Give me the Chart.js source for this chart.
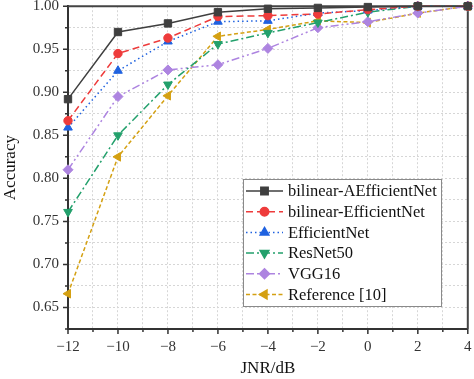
<!DOCTYPE html>
<html>
<head>
<meta charset="utf-8">
<script src="https://cdn.jsdelivr.net/npm/chart.js@4"></script>
<style>
html,body{margin:0;padding:0;background:#fff;}
#wrap{width:474px;height:379px;position:relative;}
</style>
</head>
<body>
<div id="wrap"><canvas id="c" width="474" height="379"></canvas></div>
<script>
const jnr = [-12, -10, -8, -6, -4, -2, 0, 2, 4];
const bilinearAEfficientNet = [0.892, 0.970, 0.980, 0.993, 0.997, 0.998, 0.999, 1.000, 1.000];
const bilinearEfficientNet  = [0.867, 0.945, 0.963, 0.988, 0.989, 0.991, 0.996, 1.000, 1.000];
const efficientNet          = [0.859, 0.925, 0.959, 0.982, 0.983, 0.992, 0.995, 1.000, 1.000];
const resNet50              = [0.761, 0.850, 0.909, 0.956, 0.969, 0.981, 0.993, 1.000, 1.000];
const vgg16                 = [0.810, 0.895, 0.926, 0.932, 0.951, 0.975, 0.982, 0.992, 1.000];
const reference10           = [0.666, 0.825, 0.896, 0.965, 0.973, 0.983, 0.981, 0.992, 1.000];
const seriesNames = ['bilinear-AEfficientNet', 'bilinear-EfficientNet', 'EfficientNet', 'ResNet50', 'VGG16', 'Reference [10]'];
const xTickValues = [-12, -10, -8, -6, -4, -2, 0, 2, 4];
const yTickValues = [0.65, 0.70, 0.75, 0.80, 0.85, 0.90, 0.95, 1.00];

const FONT = "'Liberation Serif', 'Times New Roman', serif";
const styles = [
  {color:'#3f3f3f', dash:[], point:'rect', r:5.2, rot:0},
  {color:'#ee3b3b', dash:[7,4], point:'circle', r:4.2, rot:0},
  {color:'#1f62e0', dash:[1.5,3], point:'triangle', r:5, rot:0},
  {color:'#23a06c', dash:[8,3,2,3], point:'triangle', r:5, rot:180},
  {color:'#ad84e0', dash:[8,3,2,3,2,3], point:'rectRot', r:5, rot:0},
  {color:'#d4a012', dash:[4,2.5], point:'triangle', r:5, rot:-90}
];
const allValues = [bilinearAEfficientNet, bilinearEfficientNet, efficientNet, resNet50, vgg16, reference10];

const datasets = allValues.map((vals, i) => ({
  label: seriesNames[i],
  data: jnr.map((x, k) => ({x: x, y: vals[k]})),
  borderColor: styles[i].color,
  backgroundColor: styles[i].color,
  borderWidth: 1.5,
  borderDash: styles[i].dash,
  pointStyle: styles[i].point,
  pointRadius: styles[i].r,
  pointRotation: styles[i].rot,
  pointBorderWidth: 1,
  pointBorderColor: styles[i].color,
  pointBackgroundColor: styles[i].color,
  tension: 0,
  clip: 12
}));

function near(v, arr){ return arr.some(a => Math.abs(a - v) < 1e-6); }

const framePlugin = {
  id: 'frame',
  beforeDatasetsDraw(chart){
    const {ctx, chartArea: a} = chart;
    ctx.save();
    ctx.strokeStyle = '#444';
    ctx.lineWidth = 2;
    ctx.beginPath();
    ctx.moveTo(a.left, a.top); ctx.lineTo(a.right, a.top); ctx.lineTo(a.right, a.bottom);
    ctx.stroke();
    // tick marks
    const xs = chart.scales.x, ys = chart.scales.y;
    ctx.strokeStyle = '#333';
    ctx.lineWidth = 1.5;
    ctx.beginPath();
    for (let v = xs.min; v <= xs.max + 1e-9; v += 1) {
      const p = xs.getPixelForValue(v);
      const len = near(v, xTickValues) ? 5 : 3;
      ctx.moveTo(p, a.bottom); ctx.lineTo(p, a.bottom + len);
    }
    for (let k = 0; k <= 15; k++) {
      const v = 0.625 + k * 0.025;
      const p = ys.getPixelForValue(v);
      const len = near(Math.round(v*1000)/1000, yTickValues) ? 5 : 3;
      ctx.moveTo(a.left, p); ctx.lineTo(a.left - len, p);
    }
    ctx.stroke();
    ctx.restore();
  },
  afterDatasetsDraw(chart){
    const {ctx} = chart;
    const bx = 243, by = 179, bw = 198, bh = 127;
    ctx.save();
    ctx.fillStyle = '#fff';
    ctx.fillRect(bx, by, bw, bh);
    ctx.strokeStyle = '#8a8a8a';
    ctx.lineWidth = 1;
    ctx.strokeRect(bx + 0.5, by + 0.5, bw, bh);
    ctx.font = "16.5px " + FONT;
    ctx.textBaseline = 'middle';
    ctx.textAlign = 'left';
    chart.data.datasets.forEach((ds, i) => {
      const y = by + 12 + i * 20.7;
      ctx.strokeStyle = ds.borderColor;
      ctx.lineWidth = 1.5;
      ctx.setLineDash(ds.borderDash);
      ctx.beginPath();
      ctx.moveTo(bx + 3, y); ctx.lineTo(bx + 40, y);
      ctx.stroke();
      ctx.setLineDash([]);
      ctx.fillStyle = ds.backgroundColor;
      Chart.helpers.drawPoint(ctx, {pointStyle: ds.pointStyle, rotation: ds.pointRotation, radius: ds.pointRadius, borderWidth: 1}, bx + 21.5, y);
      ctx.fillStyle = '#111';
      ctx.fillText(ds.label, bx + 45, y + 1);
    });
    ctx.restore();
  }
};

new Chart(document.getElementById('c'), {
  type: 'line',
  data: {datasets},
  options: {
    responsive: false,
    animation: false,
    layout: {padding: {top: 6, right: 5, left: 0, bottom: 0}},
    plugins: {legend: {display: false}, tooltip: {enabled: false}},
    scales: {
      x: {
        type: 'linear',
        min: -12, max: 4,
        ticks: {
          stepSize: 1,
          autoSkip: false,
          maxRotation: 0,
          padding: 9,
          color: '#333',
          font: {family: FONT, size: 15},
          callback: v => near(v, xTickValues) ? (v < 0 ? '\u2212' + Math.abs(v) : String(v)) : ''
        },
        grid: {color: '#d6d6d6', lineWidth: 1, drawTicks: false},
        border: {color: '#333', width: 2, dash: [2, 2]},
        title: {display: true, text: 'JNR/dB', color: '#111', font: {family: FONT, size: 17}, padding: {top: 4, bottom: 0}},
        afterFit(s){ s.height = 50; s.paddingLeft = 0; s.paddingRight = 0; }
      },
      y: {
        type: 'linear',
        min: 0.625, max: 1.0,
        ticks: {
          stepSize: 0.025,
          autoSkip: false,
          padding: 9,
          color: '#333',
          font: {family: FONT, size: 15},
          callback: v => near(Math.round(v*1000)/1000, yTickValues) ? v.toFixed(2) : ''
        },
        grid: {color: '#d6d6d6', lineWidth: 1, drawTicks: false},
        border: {color: '#333', width: 2, dash: [2, 2]},
        title: {display: true, text: 'Accuracy', color: '#111', font: {family: FONT, size: 17}, padding: {top: 0, bottom: 2}},
        afterFit(s){ s.width = 68; s.paddingTop = 0; s.paddingBottom = 0; }
      }
    }
  },
  plugins: [framePlugin]
});
</script>
</body>
</html>
